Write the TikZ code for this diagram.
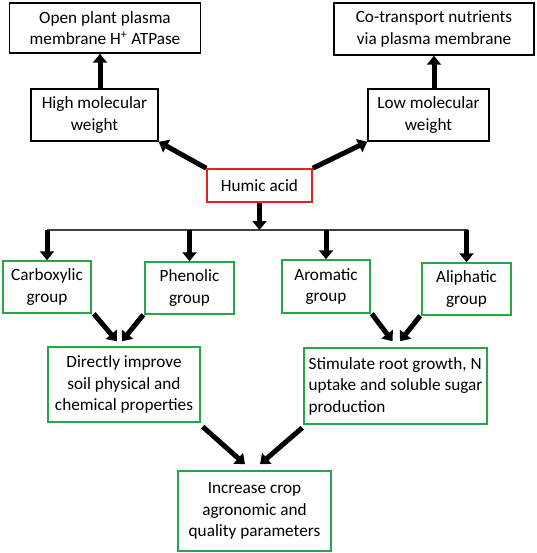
\documentclass[tikz,border=0pt]{standalone}
\usepackage{fontspec}
\setmainfont{Carlito}
\usetikzlibrary{arrows.meta,calc}
\definecolor{boxgreen}{RGB}{40,165,70}
\definecolor{boxred}{RGB}{225,35,35}
\tikzset{
  box/.style={draw=black, line width=1.5pt, align=center, inner sep=0pt, font=\fontsize{17.2}{21.5}\selectfont},
  gbox/.style={box, draw=boxgreen},
  rbox/.style={box, draw=boxred},
  arr/.style={line width=5pt, -{Triangle[length=9pt,width=14pt]}},
  bar/.style={line width=1.5pt, draw=black!75}
}
\begin{document}
\begin{tikzpicture}[x=1pt,y=-1pt]
\useasboundingbox (0,0) rectangle (536,553);
\node[box, minimum width=191pt, minimum height=50pt] (topL) at (105,28) {Open plant plasma\\membrane H\textsuperscript{+} ATPase};
\node[box, minimum width=200pt, minimum height=52pt] (topR) at (434,29) {Co-transport nutrients\\via plasma membrane};
\node[box, minimum width=127pt, minimum height=52pt] (high) at (94.5,115) {High molecular\\weight};
\node[box, minimum width=121pt, minimum height=52pt] (low) at (428.5,115) {Low molecular\\weight};
\node[rbox, minimum width=105pt, minimum height=33pt] (humic) at (259.5,185.5) {Humic acid};
\node[gbox, minimum width=88pt, minimum height=52pt] (carb) at (47,287) {Carboxylic\\group};
\node[gbox, minimum width=89pt, minimum height=52pt] (phen) at (189.5,288) {Phenolic\\group};
\node[gbox, minimum width=88pt, minimum height=53pt] (arom) at (326,286.5) {Aromatic\\group};
\node[gbox, minimum width=89pt, minimum height=52pt] (aliph) at (466.5,289) {Aliphatic\\group};
\node[gbox, minimum width=152pt, minimum height=75pt] (direct) at (124,384.5) {Directly improve\\soil physical and\\chemical properties};
\node[gbox, minimum width=183pt, minimum height=76pt, align=left] (stim) at (395.5,386) {Stimulate root growth, N\\uptake and soluble sugar\\production};
\node[gbox, minimum width=153pt, minimum height=80pt] (inc) at (254.5,511) {Increase crop\\agronomic and\\quality parameters};

\coordinate (barc) at (259.5,230);
\coordinate (barL) at (47,230);
\coordinate (barR) at (468,230);

\draw[arr] ([xshift=5.5pt]high.north) -- ([xshift=5.5pt]high.north |- topL.south);
\draw[arr] ([xshift=5.5pt]low.north) -- ([xshift=5.5pt]low.north |- topR.south);
\draw[arr] (humic.north west) -- (high.south east);
\draw[arr] (humic.north east) -- (low.south west);
\draw[bar] (barL) -- (barR);
\draw[arr] (humic.south) -- (barc);
\draw[arr] (carb.north |- barc) -- (carb.north);
\draw[arr] (phen.north |- barc) -- (phen.north);
\draw[arr] (arom.north |- barc) -- (arom.north);
\draw[arr] (aliph.north |- barc) -- (aliph.north);
\draw[arr] ([xshift=2pt]carb.south east) -- ([xshift=-7pt,yshift=5pt]direct.north);
\draw[arr] ([xshift=-1pt]phen.south west) -- ([xshift=-2pt,yshift=5pt]direct.north);
\draw[arr] ([xshift=1pt]arom.south east) -- ([xshift=-3pt,yshift=6pt]stim.north);
\draw[arr] ([xshift=-1pt]aliph.south west) -- ([xshift=4.5pt,yshift=6pt]stim.north);
\draw[arr] ([xshift=2pt,yshift=-4pt]direct.south east) -- ([xshift=-9.5pt,yshift=6pt]inc.north);
\draw[arr] ([xshift=-1pt,yshift=-3pt]stim.south west) -- ([xshift=5.5pt,yshift=6pt]inc.north);
\end{tikzpicture}
\end{document}
